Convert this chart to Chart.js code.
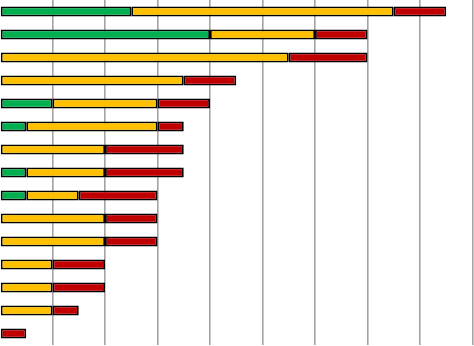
<!DOCTYPE html>
<html>
<head>
<meta charset="utf-8">
<script src="https://cdn.jsdelivr.net/npm/chart.js@4/dist/chart.umd.min.js"></script>
<style>
  html, body { margin: 0; padding: 0; background: #ffffff; }
  #wrap { width: 474px; height: 346px; }
</style>
</head>
<body>
<div id="wrap"><canvas id="c" width="474" height="346"></canvas></div>
<script>
// Row labels (one per bar, top to bottom)
const categories = ['1','2','3','4','5','6','7','8','9','10','11','12','13','14','15'];

// Stacked segments per row
const greenValues  = [5, 8, 0, 0, 2, 1, 0, 1, 1, 0, 0, 0, 0, 0, 0];
const yellowValues = [10, 4, 11, 7, 4, 5, 4, 3, 2, 4, 4, 2, 2, 2, 0];
const redValues    = [2, 2, 3, 2, 2, 1, 3, 3, 3, 2, 2, 2, 2, 1, 1];

// Value axis
const axisMax = 18;
const axisStep = 2;

const common = {
  borderColor: '#000000',
  borderWidth: 1.8,
  borderSkipped: false,
  barPercentage: 0.44,
  categoryPercentage: 1.0
};

new Chart(document.getElementById('c'), {
  type: 'bar',
  data: {
    labels: categories,
    datasets: [
      Object.assign({ label: 'Green', data: greenValues, backgroundColor: '#00B050' }, common),
      Object.assign({ label: 'Yellow', data: yellowValues, backgroundColor: '#FFC000' }, common),
      Object.assign({ label: 'Red', data: redValues, backgroundColor: '#C00000' }, common)
    ]
  },
  options: {
    indexAxis: 'y',
    responsive: false,
    animation: false,
    devicePixelRatio: 1,
    layout: { padding: { left: 0, right: 1.5, top: 0, bottom: 1 } },
    plugins: { legend: { display: false }, tooltip: { enabled: false } },
    scales: {
      x: {
        stacked: true,
        min: 0,
        max: axisMax,
        ticks: { display: false, stepSize: axisStep },
        border: { display: false },
        grid: {
          color: (ctx) => (ctx.tick && ctx.tick.value === 0 ? 'rgba(0,0,0,0)' : '#a3a3a3'),
          lineWidth: 1.6,
          drawTicks: false
        }
      },
      y: {
        stacked: true,
        display: false
      }
    }
  }
});
</script>
</body>
</html>
